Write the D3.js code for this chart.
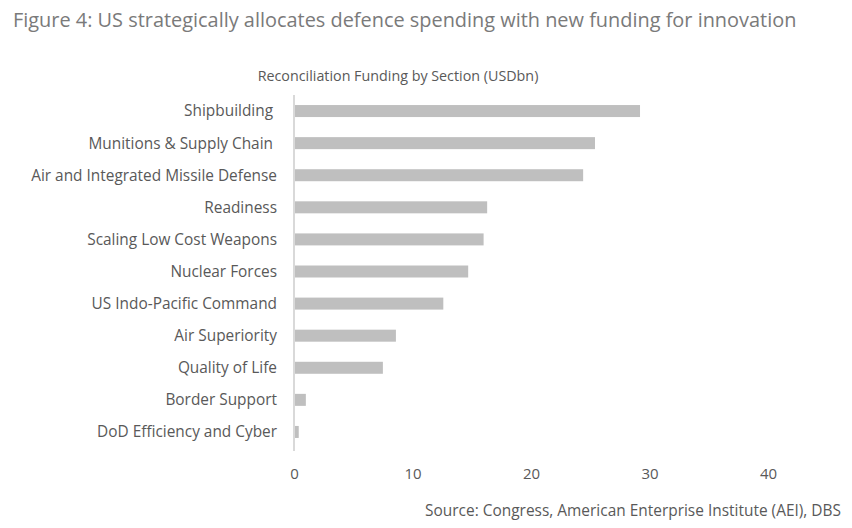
<!DOCTYPE html>
<html>
<head>
<meta charset="utf-8">
<script src="https://cdn.jsdelivr.net/npm/d3@7"></script>
<style>
  body { margin: 0; background: #fff; }
  svg { display: block; font-family: "Open Sans", sans-serif; }
</style>
</head>
<body>
<svg id="chart" width="852" height="528"></svg>
<script>
// Reconciliation funding by section (USDbn)
const sections = [
  'Shipbuilding ', 'Munitions & Supply Chain ', 'Air and Integrated Missile Defense',
  'Readiness', 'Scaling Low Cost Weapons', 'Nuclear Forces', 'US Indo-Pacific Command',
  'Air Superiority', 'Quality of Life', 'Border Support', 'DoD Efficiency and Cyber'
];
const funding = [29.2, 25.4, 24.4, 16.3, 16.0, 14.7, 12.6, 8.6, 7.5, 1.0, 0.4];
const xTicks = [0, 10, 20, 30, 40];

const svg = d3.select('#chart');
const textCol = '#595959';

// scales
const x = d3.scaleLinear().domain([0, 40]).range([294, 768]);
const y = d3.scaleBand().domain(sections).range([95, 448]).paddingInner(0.626).paddingOuter(0.313);

// title, fitted to width
const title = svg.append('text')
  .attr('x', 13).attr('y', 27)
  .attr('fill', '#7a7a7a')
  .style('font-size', '20px')
  .text('Figure 4: US strategically allocates defence spending with new funding for innovation');
const tw = title.node().getComputedTextLength();
title.style('font-size', (20 * 784 / tw) + 'px');

svg.append('text')
  .attr('x', 398).attr('y', 81)
  .attr('text-anchor', 'middle')
  .attr('fill', textCol)
  .style('font-size', '14.3px')
  .text('Reconciliation Funding by Section (USDbn)');

// bars
svg.append('g').selectAll('rect')
  .data(sections)
  .join('rect')
  .attr('x', x(0) + 1)
  .attr('y', d => y(d))
  .attr('height', y.bandwidth())
  .attr('width', (d, i) => x(funding[i]) - x(0) - 1)
  .attr('fill', '#bfbfbf');

// category labels
svg.append('g').selectAll('text')
  .data(sections)
  .join('text')
  .attr('x', 277)
  .attr('y', d => y(d) + y.bandwidth() / 2)
  .attr('dy', '0.35em')
  .attr('text-anchor', 'end')
  .attr('fill', textCol)
  .style('font-size', '15.4px')
  .style('white-space', 'pre')
  .text(d => d);

// vertical axis line
svg.append('line')
  .attr('x1', x(0)).attr('x2', x(0))
  .attr('y1', 95).attr('y2', 451)
  .attr('stroke', '#d9d9d9')
  .attr('stroke-width', 2);

// x tick labels
const xAxis = svg.append('g')
  .attr('transform', 'translate(0,458)')
  .call(d3.axisBottom(x).tickValues(xTicks).tickSize(0).tickPadding(10));
xAxis.select('.domain').remove();
xAxis.selectAll('text')
  .attr('fill', textCol)
  .style('font-size', '15px')
  .style('font-family', '"Open Sans", sans-serif');

svg.append('text')
  .attr('x', 841).attr('y', 516)
  .attr('text-anchor', 'end')
  .attr('fill', textCol)
  .style('font-size', '15.45px')
  .text('Source: Congress, American Enterprise Institute (AEI), DBS');
</script>
</body>
</html>
